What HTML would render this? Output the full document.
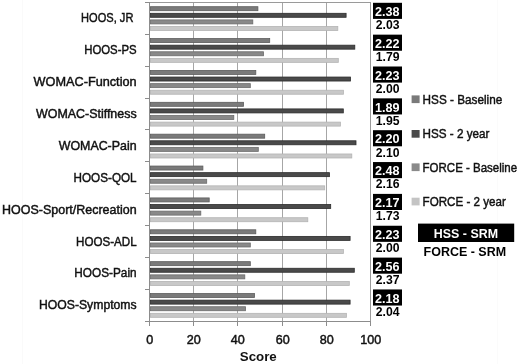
<!DOCTYPE html><html><head><meta charset="utf-8"><title>SRM chart</title><style>
html,body{margin:0;padding:0;background:#fff;width:520px;height:364px;overflow:hidden}
svg{display:block}
.cal{font-family:"Liberation Sans",sans-serif;font-size:12.6px;fill:#111;stroke:#111;stroke-width:0.45px}
.b{font-family:"Liberation Sans",sans-serif;font-weight:bold}
</style></head><body>
<svg width="520" height="364" viewBox="0 0 520 364">
<rect width="520" height="364" fill="#fff"/>
<rect x="22" y="0" width="1" height="364" fill="#fafafa"/>
<rect x="497" y="0" width="1" height="364" fill="#fbfbfb"/>
<rect x="193" y="2" width="1" height="319" fill="#a6a6a6"/>
<rect x="237" y="2" width="1" height="319" fill="#a6a6a6"/>
<rect x="282" y="2" width="1" height="319" fill="#a6a6a6"/>
<rect x="326" y="2" width="1" height="319" fill="#a6a6a6"/>
<rect x="145" y="2" width="226" height="1" fill="#9a9a9a"/>
<rect x="370" y="2" width="1" height="320" fill="#9a9a9a"/>
<rect x="149" y="2" width="1" height="324" fill="#8c8c8c"/>
<rect x="145" y="321" width="226" height="1" fill="#8c8c8c"/>
<rect x="145" y="2" width="4" height="1" fill="#8c8c8c"/>
<rect x="145" y="34" width="4" height="1" fill="#8c8c8c"/>
<rect x="145" y="66" width="4" height="1" fill="#8c8c8c"/>
<rect x="145" y="98" width="4" height="1" fill="#8c8c8c"/>
<rect x="145" y="129" width="4" height="1" fill="#8c8c8c"/>
<rect x="145" y="161" width="4" height="1" fill="#8c8c8c"/>
<rect x="145" y="193" width="4" height="1" fill="#8c8c8c"/>
<rect x="145" y="225" width="4" height="1" fill="#8c8c8c"/>
<rect x="145" y="257" width="4" height="1" fill="#8c8c8c"/>
<rect x="145" y="289" width="4" height="1" fill="#8c8c8c"/>
<rect x="145" y="321" width="4" height="1" fill="#8c8c8c"/>
<rect x="149" y="321" width="1" height="5" fill="#8c8c8c"/>
<rect x="193" y="321" width="1" height="5" fill="#8c8c8c"/>
<rect x="237" y="321" width="1" height="5" fill="#8c8c8c"/>
<rect x="282" y="321" width="1" height="5" fill="#8c8c8c"/>
<rect x="326" y="321" width="1" height="5" fill="#8c8c8c"/>
<rect x="370" y="321" width="1" height="5" fill="#8c8c8c"/>
<rect x="150.4" y="6.70" width="107.5" height="4.0" fill="#7a7a7a" stroke="#5c5c5c" stroke-width="0.8"/>
<rect x="150.4" y="13.30" width="195.7" height="4.0" fill="#4a4a4a" stroke="#2c2c2c" stroke-width="0.8"/>
<rect x="150.4" y="19.90" width="102.4" height="4.0" fill="#898989" stroke="#6c6c6c" stroke-width="0.8"/>
<rect x="150.4" y="26.50" width="187.4" height="4.0" fill="#c8c8c8" stroke="#b4b4b4" stroke-width="0.8"/>
<rect x="150.4" y="38.57" width="119.3" height="4.0" fill="#7a7a7a" stroke="#5c5c5c" stroke-width="0.8"/>
<rect x="150.4" y="45.17" width="204.4" height="4.0" fill="#4a4a4a" stroke="#2c2c2c" stroke-width="0.8"/>
<rect x="150.4" y="51.77" width="113.1" height="4.0" fill="#898989" stroke="#6c6c6c" stroke-width="0.8"/>
<rect x="150.4" y="58.37" width="187.9" height="4.0" fill="#c8c8c8" stroke="#b4b4b4" stroke-width="0.8"/>
<rect x="150.4" y="70.44" width="105.4" height="4.0" fill="#7a7a7a" stroke="#5c5c5c" stroke-width="0.8"/>
<rect x="150.4" y="77.04" width="200.1" height="4.0" fill="#4a4a4a" stroke="#2c2c2c" stroke-width="0.8"/>
<rect x="150.4" y="83.64" width="99.9" height="4.0" fill="#898989" stroke="#6c6c6c" stroke-width="0.8"/>
<rect x="150.4" y="90.24" width="193.0" height="4.0" fill="#c8c8c8" stroke="#b4b4b4" stroke-width="0.8"/>
<rect x="150.4" y="102.31" width="93.1" height="4.0" fill="#7a7a7a" stroke="#5c5c5c" stroke-width="0.8"/>
<rect x="150.4" y="108.91" width="192.9" height="4.0" fill="#4a4a4a" stroke="#2c2c2c" stroke-width="0.8"/>
<rect x="150.4" y="115.51" width="83.4" height="4.0" fill="#898989" stroke="#6c6c6c" stroke-width="0.8"/>
<rect x="150.4" y="122.11" width="190.0" height="4.0" fill="#c8c8c8" stroke="#b4b4b4" stroke-width="0.8"/>
<rect x="150.4" y="134.18" width="114.3" height="4.0" fill="#7a7a7a" stroke="#5c5c5c" stroke-width="0.8"/>
<rect x="150.4" y="140.78" width="205.6" height="4.0" fill="#4a4a4a" stroke="#2c2c2c" stroke-width="0.8"/>
<rect x="150.4" y="147.38" width="107.9" height="4.0" fill="#898989" stroke="#6c6c6c" stroke-width="0.8"/>
<rect x="150.4" y="153.98" width="201.4" height="4.0" fill="#c8c8c8" stroke="#b4b4b4" stroke-width="0.8"/>
<rect x="150.4" y="166.05" width="52.5" height="4.0" fill="#7a7a7a" stroke="#5c5c5c" stroke-width="0.8"/>
<rect x="150.4" y="172.65" width="179.0" height="4.0" fill="#4a4a4a" stroke="#2c2c2c" stroke-width="0.8"/>
<rect x="150.4" y="179.25" width="56.3" height="4.0" fill="#898989" stroke="#6c6c6c" stroke-width="0.8"/>
<rect x="150.4" y="185.85" width="174.3" height="4.0" fill="#c8c8c8" stroke="#b4b4b4" stroke-width="0.8"/>
<rect x="150.4" y="197.92" width="58.8" height="4.0" fill="#7a7a7a" stroke="#5c5c5c" stroke-width="0.8"/>
<rect x="150.4" y="204.52" width="180.3" height="4.0" fill="#4a4a4a" stroke="#2c2c2c" stroke-width="0.8"/>
<rect x="150.4" y="211.12" width="50.4" height="4.0" fill="#898989" stroke="#6c6c6c" stroke-width="0.8"/>
<rect x="150.4" y="217.72" width="157.4" height="4.0" fill="#c8c8c8" stroke="#b4b4b4" stroke-width="0.8"/>
<rect x="150.4" y="229.79" width="105.4" height="4.0" fill="#7a7a7a" stroke="#5c5c5c" stroke-width="0.8"/>
<rect x="150.4" y="236.39" width="199.7" height="4.0" fill="#4a4a4a" stroke="#2c2c2c" stroke-width="0.8"/>
<rect x="150.4" y="242.99" width="99.9" height="4.0" fill="#898989" stroke="#6c6c6c" stroke-width="0.8"/>
<rect x="150.4" y="249.59" width="193.0" height="4.0" fill="#c8c8c8" stroke="#b4b4b4" stroke-width="0.8"/>
<rect x="150.4" y="261.66" width="99.9" height="4.0" fill="#7a7a7a" stroke="#5c5c5c" stroke-width="0.8"/>
<rect x="150.4" y="268.26" width="203.9" height="4.0" fill="#4a4a4a" stroke="#2c2c2c" stroke-width="0.8"/>
<rect x="150.4" y="274.86" width="94.4" height="4.0" fill="#898989" stroke="#6c6c6c" stroke-width="0.8"/>
<rect x="150.4" y="281.46" width="198.9" height="4.0" fill="#c8c8c8" stroke="#b4b4b4" stroke-width="0.8"/>
<rect x="150.4" y="293.53" width="104.1" height="4.0" fill="#7a7a7a" stroke="#5c5c5c" stroke-width="0.8"/>
<rect x="150.4" y="300.13" width="199.7" height="4.0" fill="#4a4a4a" stroke="#2c2c2c" stroke-width="0.8"/>
<rect x="150.4" y="306.73" width="95.2" height="4.0" fill="#898989" stroke="#6c6c6c" stroke-width="0.8"/>
<rect x="150.4" y="313.33" width="196.0" height="4.0" fill="#c8c8c8" stroke="#b4b4b4" stroke-width="0.8"/>
<text class="cal" x="133.4" y="22.4" text-anchor="end" textLength="52.3" lengthAdjust="spacingAndGlyphs">HOOS, JR</text>
<text class="cal" x="136.6" y="54.3" text-anchor="end" textLength="52.4" lengthAdjust="spacingAndGlyphs">HOOS-PS</text>
<text class="cal" x="136.6" y="86.2" text-anchor="end" textLength="103" lengthAdjust="spacingAndGlyphs">WOMAC-Function</text>
<text class="cal" x="136.6" y="118.0" text-anchor="end" textLength="100.6" lengthAdjust="spacingAndGlyphs">WOMAC-Stiffness</text>
<text class="cal" x="136.6" y="149.9" text-anchor="end" textLength="77.9" lengthAdjust="spacingAndGlyphs">WOMAC-Pain</text>
<text class="cal" x="136.6" y="181.8" text-anchor="end" textLength="63" lengthAdjust="spacingAndGlyphs">HOOS-QOL</text>
<text class="cal" x="136.6" y="213.7" text-anchor="end" textLength="134.5" lengthAdjust="spacingAndGlyphs">HOOS-Sport/Recreation</text>
<text class="cal" x="136.6" y="245.5" text-anchor="end" textLength="60.6" lengthAdjust="spacingAndGlyphs">HOOS-ADL</text>
<text class="cal" x="136.6" y="277.4" text-anchor="end" textLength="62.3" lengthAdjust="spacingAndGlyphs">HOOS-Pain</text>
<text class="cal" x="136.6" y="309.3" text-anchor="end" textLength="97.6" lengthAdjust="spacingAndGlyphs">HOOS-Symptoms</text>
<text class="cal" x="149.7" y="343.8" text-anchor="middle">0</text>
<text class="cal" x="193.7" y="343.8" text-anchor="middle">20</text>
<text class="cal" x="237.7" y="343.8" text-anchor="middle">40</text>
<text class="cal" x="282.7" y="343.8" text-anchor="middle">60</text>
<text class="cal" x="326.7" y="343.8" text-anchor="middle">80</text>
<text class="cal" x="370.7" y="343.8" text-anchor="middle">100</text>
<text class="b" x="258.3" y="361" text-anchor="middle" font-size="13.3" fill="#111">Score</text>
<rect x="373" y="2.80" width="29" height="16.1" fill="#000"/>
<text class="b" x="399.5" y="16.0" text-anchor="end" font-size="12.6" fill="#fff">2.38</text>
<text class="b" x="399.5" y="29.1" text-anchor="end" font-size="12.2" fill="#000">2.03</text>
<rect x="373" y="34.65" width="29" height="16.1" fill="#000"/>
<text class="b" x="399.5" y="47.8" text-anchor="end" font-size="12.6" fill="#fff">2.22</text>
<text class="b" x="399.5" y="61.0" text-anchor="end" font-size="12.2" fill="#000">1.79</text>
<rect x="373" y="66.50" width="29" height="16.1" fill="#000"/>
<text class="b" x="399.5" y="79.7" text-anchor="end" font-size="12.6" fill="#fff">2.23</text>
<text class="b" x="399.5" y="92.8" text-anchor="end" font-size="12.2" fill="#000">2.00</text>
<rect x="373" y="98.35" width="29" height="16.1" fill="#000"/>
<text class="b" x="399.5" y="111.6" text-anchor="end" font-size="12.6" fill="#fff">1.89</text>
<text class="b" x="399.5" y="124.7" text-anchor="end" font-size="12.2" fill="#000">1.95</text>
<rect x="373" y="130.20" width="29" height="16.1" fill="#000"/>
<text class="b" x="399.5" y="143.4" text-anchor="end" font-size="12.6" fill="#fff">2.20</text>
<text class="b" x="399.5" y="156.5" text-anchor="end" font-size="12.2" fill="#000">2.10</text>
<rect x="373" y="162.05" width="29" height="16.1" fill="#000"/>
<text class="b" x="399.5" y="175.2" text-anchor="end" font-size="12.6" fill="#fff">2.48</text>
<text class="b" x="399.5" y="188.4" text-anchor="end" font-size="12.2" fill="#000">2.16</text>
<rect x="373" y="193.90" width="29" height="16.1" fill="#000"/>
<text class="b" x="399.5" y="207.1" text-anchor="end" font-size="12.6" fill="#fff">2.17</text>
<text class="b" x="399.5" y="220.2" text-anchor="end" font-size="12.2" fill="#000">1.73</text>
<rect x="373" y="225.75" width="29" height="16.1" fill="#000"/>
<text class="b" x="399.5" y="239.0" text-anchor="end" font-size="12.6" fill="#fff">2.23</text>
<text class="b" x="399.5" y="252.1" text-anchor="end" font-size="12.2" fill="#000">2.00</text>
<rect x="373" y="257.60" width="29" height="16.1" fill="#000"/>
<text class="b" x="399.5" y="270.8" text-anchor="end" font-size="12.6" fill="#fff">2.56</text>
<text class="b" x="399.5" y="283.9" text-anchor="end" font-size="12.2" fill="#000">2.37</text>
<rect x="373" y="289.45" width="29" height="16.1" fill="#000"/>
<text class="b" x="399.5" y="302.7" text-anchor="end" font-size="12.6" fill="#fff">2.18</text>
<text class="b" x="399.5" y="315.8" text-anchor="end" font-size="12.2" fill="#000">2.04</text>
<rect x="411.6" y="95.4" width="8" height="7.7" fill="#7a7a7a"/>
<text class="cal" x="422.6" y="103.5" textLength="79.6" lengthAdjust="spacingAndGlyphs">HSS - Baseline</text>
<rect x="411.6" y="130.0" width="8" height="7.7" fill="#4a4a4a"/>
<text class="cal" x="422.6" y="137.6" textLength="66.8" lengthAdjust="spacingAndGlyphs">HSS - 2 year</text>
<rect x="411.6" y="163.4" width="8" height="7.7" fill="#8a8a8a"/>
<text class="cal" x="422.6" y="171.8" textLength="94.5" lengthAdjust="spacingAndGlyphs">FORCE - Baseline</text>
<rect x="411.6" y="197.7" width="8" height="7.7" fill="#c4c4c4"/>
<text class="cal" x="422.6" y="205.8" textLength="83.2" lengthAdjust="spacingAndGlyphs">FORCE - 2 year</text>
<rect x="418" y="223.6" width="96.2" height="18.4" fill="#000"/>
<text class="b" x="465.9" y="237.7" text-anchor="middle" font-size="12" fill="#fff" textLength="64.2" lengthAdjust="spacingAndGlyphs">HSS - SRM</text>
<text class="b" x="464.85" y="255.7" text-anchor="middle" font-size="12" fill="#000" textLength="82.6" lengthAdjust="spacingAndGlyphs">FORCE - SRM</text>
</svg></body></html>
